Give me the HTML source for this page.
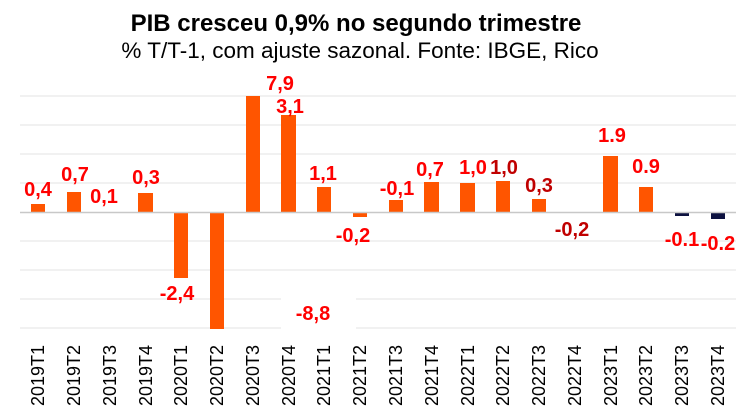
<!DOCTYPE html>
<html><head><meta charset="utf-8"><style>
html,body{margin:0;padding:0;background:#fff;}
svg{display:block;font-family:"Liberation Sans",Arial,sans-serif;}
</style></head><body>
<svg width="751" height="415" viewBox="0 0 751 415">
<text x="356" y="31" text-anchor="middle" font-size="24" font-weight="bold">PIB cresceu 0,9%  no segundo trimestre</text>
<text x="360" y="58" text-anchor="middle" font-size="22.5">% T/T-1, com ajuste sazonal. Fonte: IBGE, Rico</text>
<g stroke="#e3e3e3" stroke-width="1">
<line x1="20" x2="736" y1="96" y2="96"/><line x1="20" x2="736" y1="125" y2="125"/>
<line x1="20" x2="736" y1="154" y2="154"/><line x1="20" x2="736" y1="183" y2="183"/>
<line x1="20" x2="736" y1="241" y2="241"/><line x1="20" x2="736" y1="270" y2="270"/>
<line x1="20" x2="736" y1="299" y2="299"/><line x1="20" x2="736" y1="328" y2="328"/>
</g>
<rect x="281" y="290" width="75" height="45" fill="#fff"/>
<g fill="#ff5500">
<rect x="31" y="204" width="14" height="8"/>
<rect x="67" y="192" width="14" height="20"/>
<rect x="138" y="193" width="15" height="19"/>
<rect x="174" y="213" width="14" height="65"/>
<rect x="210" y="213" width="14" height="116"/>
<rect x="246" y="96" width="14" height="116"/>
<rect x="281" y="115" width="15" height="97"/>
<rect x="317" y="187" width="14" height="25"/>
<rect x="353" y="213" width="14" height="4"/>
<rect x="389" y="200" width="14" height="12"/>
<rect x="424" y="182" width="15" height="30"/>
<rect x="460" y="183" width="15" height="29"/>
<rect x="496" y="181" width="14" height="31"/>
<rect x="532" y="199" width="14" height="13"/>
<rect x="603" y="156" width="15" height="56"/>
<rect x="639" y="187" width="14" height="25"/>
</g>
<g fill="#0d1240">
<rect x="675" y="213" width="14" height="3"/>
<rect x="711" y="213" width="14" height="6"/>
</g>
<line x1="20" x2="736" y1="212.5" y2="212.5" stroke="#c8c8c8" stroke-width="1.5"/>
<g font-size="20" font-weight="bold" text-anchor="middle" fill="#ff0000">
<text x="38" y="196">0,4</text>
<text x="75" y="181">0,7</text>
<text x="104" y="203">0,1</text>
<text x="146" y="184">0,3</text>
<text x="177" y="300">-2,4</text>
<text x="280" y="90">7,9</text>
<text x="290" y="113">3,1</text>
<text x="323" y="180">1,1</text>
<text x="353" y="242">-0,2</text>
<text x="397" y="195">-0,1</text>
<text x="430" y="176">0,7</text>
<text x="473" y="174">1,0</text>
<text x="313" y="320">-8,8</text>
<text x="612" y="142">1.9</text>
<text x="646" y="173">0.9</text>
<text x="682" y="246">-0.1</text>
<text x="718" y="250">-0.2</text>
</g>
<g font-size="20" font-weight="bold" text-anchor="middle" fill="#c00000">
<text x="504" y="174">1,0</text>
<text x="539" y="192">0,3</text>
<text x="572" y="236">-0,2</text>
</g>
<g font-size="18" fill="#000" text-anchor="start">
<text transform="translate(44,406) rotate(-90)">2019T1</text>
<text transform="translate(80,406) rotate(-90)">2019T2</text>
<text transform="translate(116,406) rotate(-90)">2019T3</text>
<text transform="translate(152,406) rotate(-90)">2019T4</text>
<text transform="translate(187,406) rotate(-90)">2020T1</text>
<text transform="translate(223,406) rotate(-90)">2020T2</text>
<text transform="translate(259,406) rotate(-90)">2020T3</text>
<text transform="translate(295,406) rotate(-90)">2020T4</text>
<text transform="translate(330,406) rotate(-90)">2021T1</text>
<text transform="translate(366,406) rotate(-90)">2021T2</text>
<text transform="translate(402,406) rotate(-90)">2021T3</text>
<text transform="translate(438,406) rotate(-90)">2021T4</text>
<text transform="translate(474,406) rotate(-90)">2022T1</text>
<text transform="translate(509,406) rotate(-90)">2022T2</text>
<text transform="translate(545,406) rotate(-90)">2022T3</text>
<text transform="translate(581,406) rotate(-90)">2022T4</text>
<text transform="translate(617,406) rotate(-90)">2023T1</text>
<text transform="translate(652,406) rotate(-90)">2023T2</text>
<text transform="translate(688,406) rotate(-90)">2023T3</text>
<text transform="translate(724,406) rotate(-90)">2023T4</text>
</g>
</svg>
</body></html>
